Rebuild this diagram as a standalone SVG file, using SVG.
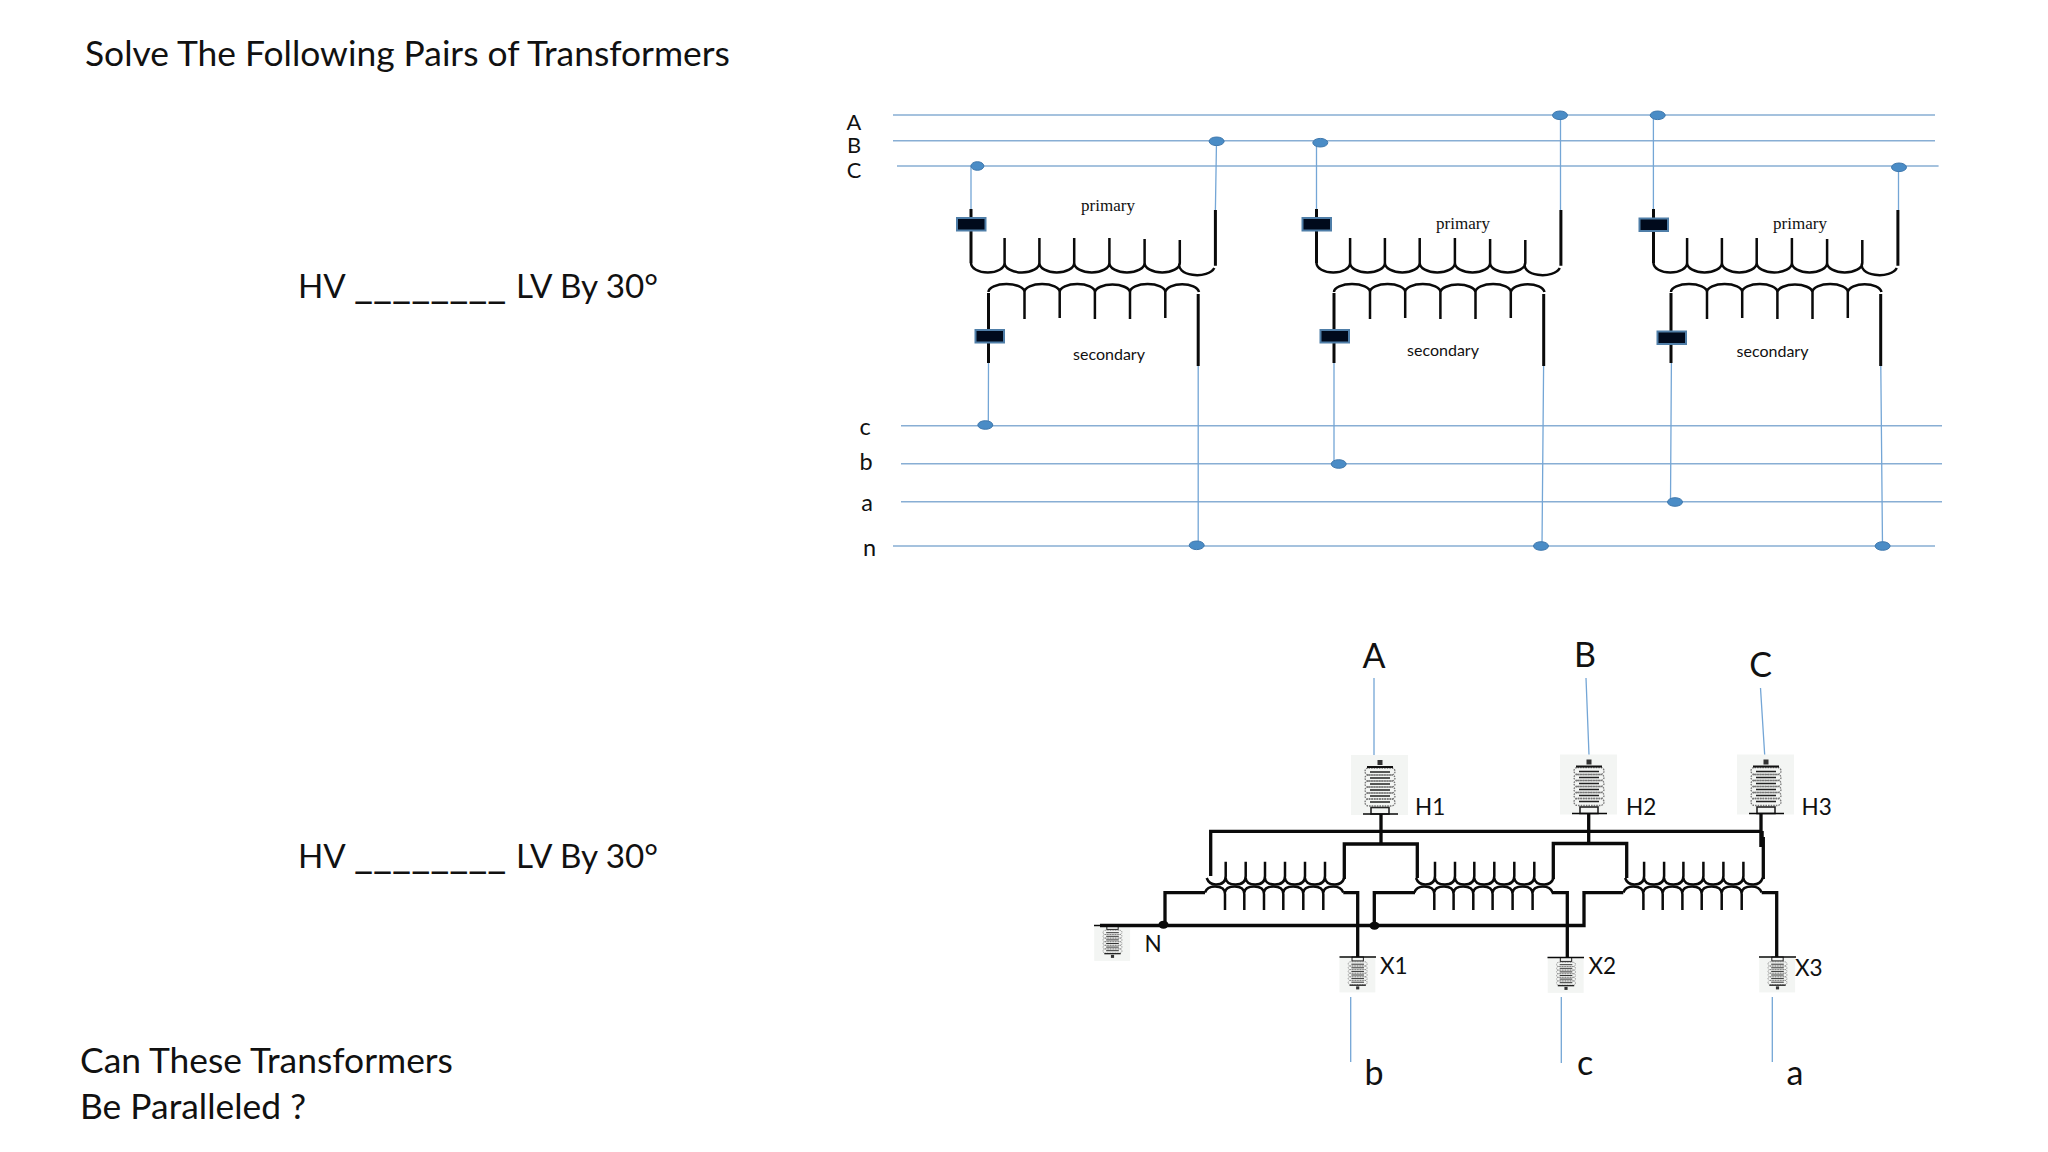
<svg xmlns="http://www.w3.org/2000/svg" width="2048" height="1152" viewBox="0 0 2048 1152">
<style>
text{font-family:"Lato","Liberation Sans",sans-serif;fill:#111}
.h{font-size:35.4px}
.hv{font-size:33.2px}
.us{font-size:41.5px}
.bus{stroke:#88aed4;stroke-width:1.6;fill:none}
.drop{stroke:#74a6d6;stroke-width:1.3;fill:none}
.dot{fill:#4a8cc6;stroke:#3f78ad;stroke-width:1}
.brk{fill:#000a1c;stroke:#4f7ea8;stroke-width:2}
.coil{stroke:#0a0a0a;stroke-width:2.5;fill:none}
.thin{stroke:#0a0a0a;stroke-width:1.5;fill:none}
.bar{stroke:#0a0a0a;stroke-width:3;fill:none}
.wire{stroke:#0a0a0a;stroke-width:3.3;fill:none}
.ph{font-size:21.8px;text-anchor:middle}
.pl{font-size:23.5px;text-anchor:middle}
.big{font-size:34px;text-anchor:middle}
.lb{font-size:22.5px}
.pri{font-family:"Liberation Serif",serif;font-size:17px;text-anchor:middle}
.sec{font-size:16px;text-anchor:middle}
.shed{fill:none;stroke:#777;stroke-width:1.3;stroke-dasharray:1.6 1}
</style>
<defs>
<g id="upper-winding">
<path class="coil" d="M971 263A16.8 9.5 0 0 0 1004.6 263V238M1004.6 263A17.4 9.5 0 0 0 1039.4 263V238M1039.4 263A17.4 9.5 0 0 0 1074.2 263V238M1074.2 263A17.6 9.5 0 0 0 1109.4 263V238M1109.4 263A17.6 9.5 0 0 0 1144.6 263V239M1144.6 263A17.6 9.5 0 0 0 1179.8 263V240M1179.8 263A17.5 9.5 0 0 0 1214.3 268"/>
<path class="bar" d="M971 209V263M1215.4 210V265.7"/>
<path class="coil" d="M988.5 292A18 8 0 0 1 1024.5 292V319M1024.5 292A17.6 8 0 0 1 1059.7 292V318M1059.7 292A17.6 8 0 0 1 1094.9 292V319M1094.9 292A17.6 8 0 0 1 1130 292V319M1130 292A17.6 8 0 0 1 1165.3 292V318M1165.3 292A17 9 0 0 1 1199 292"/>
<path class="bar" d="M988.5 293V363M1198.2 294V366"/>
</g>
<g id="lower-coil">
<path class="coil" d="M1206.7 878Q1209 884.5 1216 884.5Q1225.7 884.5 1225.7 876V861.7M1225.7 878Q1226 884.5 1235.7 884.5Q1245.7 884.5 1245.7 876V861.7M1245.7 878Q1246 884.5 1255.3 884.5Q1265 884.5 1265 876V861.7M1265 878Q1265.5 884.5 1275 884.5Q1285 884.5 1285 876V861.7M1285 878Q1285.5 884.5 1295 884.5Q1305 884.5 1305 876V861.7M1305 878Q1305.5 884.5 1315 884.5Q1325 884.5 1325 876V861.7M1325 878Q1325.5 884.5 1335 884.5Q1342 884.5 1344.3 878"/>
<path class="coil" d="M1205 892.5Q1207 886.5 1215 886.5Q1225 886.5 1225 894V910M1225 892.5Q1225.5 886.5 1234.7 886.5Q1244.3 886.5 1244.3 894V910M1244.3 892.5Q1245 886.5 1254 886.5Q1264 886.5 1264 894V910M1264 892.5Q1264.5 886.5 1273.7 886.5Q1283.3 886.5 1283.3 894V910M1283.3 892.5Q1284 886.5 1293.3 886.5Q1303.3 886.5 1303.3 894V910M1303.3 892.5Q1304 886.5 1313.3 886.5Q1323.3 886.5 1323.3 894V910M1323.3 892.5Q1324 886.5 1333.3 886.5Q1341 886.5 1343.3 892.5"/>
</g>
<g id="bushing">
<rect x="-29" y="-59" width="57" height="60" fill="#f3f5f3"/>
<rect x="-2.5" y="-54" width="5" height="5" fill="#333"/>
<rect class="shed" x="-15" y="-46" width="30" height="7" rx="3.5"/>
<rect class="shed" x="-15" y="-39" width="30" height="6" rx="3"/>
<rect class="shed" x="-15" y="-33" width="30" height="6" rx="3"/>
<rect class="shed" x="-15" y="-27" width="30" height="6" rx="3"/>
<rect class="shed" x="-15" y="-21" width="30" height="6" rx="3"/>
<rect class="shed" x="-15" y="-15" width="30" height="7" rx="3.5"/>
<path d="M-13 -47H13" stroke="#111" stroke-width="2" fill="none"/>
<path d="M-10 -42H10M-10 -36H10M-10 -30H10M-10 -24H10M-10 -18H10M-10 -12H10" stroke="#222" stroke-width="1.5" fill="none"/>
<rect x="-9" y="-6.5" width="18" height="6.5" fill="none" stroke="#222" stroke-width="1.6"/>
</g>
</defs>
<rect width="2048" height="1152" fill="#fff"/>
<g id="texts">
<text class="h" x="85" y="66">Solve The Following Pairs of Transformers</text>
<text class="hv" x="298" y="298">HV <tspan class="us" x="354">________</tspan> <tspan x="516">LV By 30°</tspan></text>
<text class="hv" x="298" y="868">HV <tspan class="us" x="354">________</tspan> <tspan x="516">LV By 30°</tspan></text>
<text class="h" x="80" y="1073">Can These Transformers</text>
<text class="h" x="80" y="1119">Be Paralleled ?</text>
</g>
<g id="connectors">
<path class="bus" d="M893 115H1935M893 140.7H1935M897 166H1938.6M901 425.7H1942M901 463.7H1942M901 501.7H1942M893 546H1935"/>
<path class="drop" d="M971 166V209M1216.5 141L1215.4 210M988.5 363L988.3 425M1198.2 366V546M1316.5 141V209M1560.5 115V210M1334 363L1334 463M1543.6 366L1542 546M1653.4 115V209M1898.5 167V210M1671.4 363L1670.5 502M1880.8 366L1882.5 546"/>
<path class="drop" d="M1374 678V755M1586 678L1589 755M1760.5 688L1765 760M1350.7 997V1062M1561.3 997V1063M1772.3 997V1062"/>
</g>
<g id="bus-labels">
<text class="ph" x="854" y="130">A</text>
<text class="ph" x="854" y="153">B</text>
<text class="ph" x="854" y="178">C</text>
<text class="pl" x="865" y="435">c</text>
<text class="pl" x="866" y="469.5">b</text>
<text class="pl" x="867" y="511">a</text>
<text class="pl" x="869.5" y="556">n</text>
</g>
<g id="bus-taps">
<ellipse class="dot" cx="977.4" cy="166" rx="6.5" ry="4.3"/>
<ellipse class="dot" cx="1216.6" cy="141.3" rx="7.5" ry="4.3"/>
<ellipse class="dot" cx="1320.3" cy="142.7" rx="7.5" ry="4.3"/>
<ellipse class="dot" cx="1560" cy="115.3" rx="7.5" ry="4.3"/>
<ellipse class="dot" cx="1657.7" cy="115.3" rx="7.5" ry="4.3"/>
<ellipse class="dot" cx="1899" cy="167.3" rx="7.5" ry="4.3"/>
<ellipse class="dot" cx="985.3" cy="425" rx="7.5" ry="4.3"/>
<ellipse class="dot" cx="1338.7" cy="464" rx="7.5" ry="4.3"/>
<ellipse class="dot" cx="1675" cy="502" rx="7.5" ry="4.3"/>
<ellipse class="dot" cx="1196.7" cy="545.3" rx="7.5" ry="4.3"/>
<ellipse class="dot" cx="1541" cy="546" rx="7.5" ry="4.3"/>
<ellipse class="dot" cx="1882.6" cy="546" rx="7.5" ry="4.3"/>
</g>
<g id="transformer-1">
<use href="#upper-winding"/>
<rect class="brk" x="957" y="218" width="28.5" height="12.5"/>
<rect class="brk" x="975.5" y="330" width="28.5" height="12.5"/>
<text class="pri" x="1108" y="211">primary</text>
<text class="sec" x="1109" y="360">secondary</text>
</g>
<g id="transformer-2">
<use href="#upper-winding" x="345.5"/>
<rect class="brk" x="1302.5" y="218" width="28.5" height="12.5"/>
<rect class="brk" x="1320.5" y="330" width="28.5" height="12.5"/>
<text class="pri" x="1463" y="229">primary</text>
<text class="sec" x="1443" y="356">secondary</text>
</g>
<g id="transformer-3">
<use href="#upper-winding" x="682.5"/>
<rect class="brk" x="1639.5" y="218.5" width="28.5" height="12.5"/>
<rect class="brk" x="1657.5" y="331.5" width="28.5" height="12.5"/>
<text class="pri" x="1800" y="229">primary</text>
<text class="sec" x="1772.5" y="357">secondary</text>
</g>
<g id="bushing-H1">
<use href="#bushing" x="1380" y="814"/>
<path class="thin" d="M1363 814H1398"/>
<text class="lb" x="1415" y="815">H1</text>
</g>
<g id="bushing-H2">
<use href="#bushing" x="1589" y="813.5"/>
<path class="thin" d="M1572 813.5H1607"/>
<text class="lb" x="1626" y="815">H2</text>
</g>
<g id="bushing-H3">
<use href="#bushing" x="1766" y="813.5"/>
<path class="thin" d="M1749 813.5H1784"/>
<text class="lb" x="1801.5" y="815">H3</text>
</g>
<g id="bushing-N">
<use href="#bushing" transform="translate(1112.5 925.5) scale(.63 -.6)"/>
<text class="lb" x="1144.5" y="952">N</text>
</g>
<g id="bushing-X1">
<use href="#bushing" transform="translate(1357.7 957) scale(.63 -.6)"/>
<path class="thin" d="M1339.5 957H1376"/>
<text class="lb" x="1380" y="974">X1</text>
</g>
<g id="bushing-X2">
<use href="#bushing" transform="translate(1566 957.5) scale(.63 -.6)"/>
<path class="thin" d="M1547.5 957.5H1584"/>
<text class="lb" x="1588.5" y="974">X2</text>
</g>
<g id="bushing-X3">
<use href="#bushing" transform="translate(1777.5 957) scale(.63 -.6)"/>
<path class="thin" d="M1759 957H1796"/>
<text class="lb" x="1795" y="976">X3</text>
</g>
<g id="lower-transformer">
<use href="#lower-coil"/>
<use href="#lower-coil" x="209.3"/>
<use href="#lower-coil" x="418.4"/>
</g>
<g id="lower-wiring">
<path class="wire" d="M1381 814V844M1210.7 876V831.3H1761.5M1344.3 879V844H1417.3V878"/>
<path class="wire" d="M1588.7 813V843.5M1553.3 879V843.5H1626.7V878"/>
<path class="wire" d="M1761 813V832M1763.3 837V879"/>
<path d="M1761.5 831V847" stroke="#0a0a0a" stroke-width="4.5" fill="none"/>
<path class="wire" d="M1100 925.5H1584V892.7H1623.3M1165 925V892.7H1205M1343.3 892.7H1357.7V957M1374.3 925.7V892.7H1415M1551.7 892.7H1567.3V957.5M1761.7 892.7H1776.7V957"/>
<path class="thin" d="M1094 925.5H1100"/>
<ellipse cx="1163.5" cy="924.7" rx="5" ry="4" fill="#0a0a0a"/>
<ellipse cx="1374.5" cy="925.7" rx="5" ry="4" fill="#0a0a0a"/>
</g>
<g id="lower-labels">
<text class="big" x="1374" y="668">A</text>
<text class="big" x="1585" y="667">B</text>
<text class="big" x="1760.5" y="677">C</text>
<text class="big" x="1374" y="1085">b</text>
<text class="big" x="1585" y="1075">c</text>
<text class="big" x="1795" y="1085">a</text>
</g>
</svg>
